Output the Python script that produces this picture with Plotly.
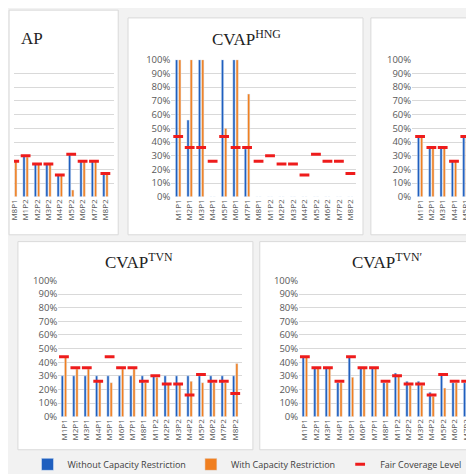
import plotly.graph_objects as go

cats = ["M1P1","M2P1","M3P1","M4P1","M5P1","M6P1","M7P1","M8P1",
        "M1P2","M2P2","M3P2","M4P2","M5P2","M6P2","M7P2","M8P2"]
fair = [44,36,36,26,44,36,36,26,30,24,24,16,31,26,26,17]

cvap_wo = [44,36,36,26,44,36,36,26,30,24,24,16,31,26,26,17]
cvap_w  = [44,36,36,26,44,36,36,26,29,24,24,16,5,26,26,17]
hng_wo = [100,56,100,0,100,100,35,0,0,0,0,0,0,0,0,0]
hng_w  = [100,100,100,0,50,100,75,0,0,0,0,0,0,0,0,0]
tvn_wo = [30,30,30,30,30,30,30,30,30,30,30,30,30,30,30,30]
tvn_w  = [44,35,35,26,25,35,35,25,29,24,24,26,25,25,25,39]
tvnp_wo = [44,36,36,25,44,36,36,25,32,26,26,18,31,25,25,17]
tvnp_w  = [44,36,36,25,29,36,36,25,30,23,23,15,21,25,25,42]
cvr_wo = fair
cvr_w = fair

BLUE, ORANGE, RED = "#1f5fbf", "#f07f20", "#ee1c1c"
H = 474.0
def py(p): return 1 - p / H
def px(p): return p / H

panels = [
    (cvap_wo, cvap_w, (0, 102), (46, 187), [6.98, 15.78], "AP", (18, 24), False),
    (hng_wo, hng_w, (160, 348), (46, 187), [-0.6, 15.5], "CVAP<sup>HNG</sup>", (236, 24), True),
    (cvr_wo, cvr_w, (405, 474), (46, 187), [-0.7, 5.3], "CV", (480, 24), True),
    (tvn_wo, tvn_w, (45, 232), (273, 413), [-0.5, 15.6], "CVAP<sup>TVN</sup>", (127, 253), True),
    (tvnp_wo, tvnp_w, (290, 474), (273, 413), [-0.5, 15.2], "CVAP<sup>TVN′</sup>", (380, 253), True),
]

fig = go.Figure()
layout = {}
def box(x0, x1, y0, y1):
    return dict(type="rect", xref="paper", yref="paper", x0=px(x0), x1=px(x1), y0=py(y1), y1=py(y0),
                line=dict(color="#d9d9d9", width=1), fillcolor="white", layer="below")
shapes = [box(-5, 106, -5, 226), box(116, 355, 3, 226), box(363, 480, 3, 226),
          box(4, 243, 233, 447), box(250, 480, 233, 447)]
annotations = []
for i, (wo, w, xd, yd, xr, title, tp, showy) in enumerate(panels):
    n = i + 1
    xa = "x" if n == 1 else f"x{n}"
    ya = "y" if n == 1 else f"y{n}"
    fig.add_trace(go.Bar(x=cats, y=[v/100 for v in wo], marker_color=BLUE, width=0.2, offset=-0.24,
                         name="Without Capacity Restriction", showlegend=(n == 1), xaxis=xa, yaxis=ya))
    fig.add_trace(go.Bar(x=cats, y=[v/100 for v in w], marker_color=ORANGE, width=0.2, offset=0.04,
                         name="With Capacity Restriction", showlegend=(n == 1), xaxis=xa, yaxis=ya))
    fig.add_trace(go.Scatter(x=cats, y=[v/100 for v in fair], mode="markers",
                             marker=dict(symbol="line-ew", size=7, line=dict(color=RED, width=3)),
                             name="Fair Coverage Level", showlegend=(n == 1), xaxis=xa, yaxis=ya))
    layout["xaxis" if n == 1 else f"xaxis{n}"] = dict(
        domain=[px(xd[0]), px(xd[1])], anchor=ya, range=xr, tickangle=-90,
        tickfont=dict(size=8, color="#595959"), showgrid=False, showline=False, ticks="")
    layout["yaxis" if n == 1 else f"yaxis{n}"] = dict(
        domain=[py(yd[1]), py(yd[0])], anchor=xa, range=[0, 1.0], dtick=0.1, tickformat=".0%",
        showticklabels=showy, tickfont=dict(size=9.5, color="#595959"),
        gridcolor="#d9d9d9", zeroline=False, showline=False)
    annotations.append(dict(text=title, x=px(tp[0]), y=py(tp[1]), xref="paper", yref="paper",
                            showarrow=False, font=dict(family="Liberation Serif", size=17, color="#222"),
                            xanchor="center", yanchor="middle"))

fig.update_layout(**layout)
fig.update_layout(
    width=474, height=474, margin=dict(l=0, r=0, t=0, b=0),
    paper_bgcolor="#f2f2f2", plot_bgcolor="rgba(0,0,0,0)",
    barmode="overlay", shapes=shapes, annotations=annotations,
    font=dict(family="Open Sans"),
    legend=dict(orientation="h", x=0.5, xanchor="center", y=py(462), yanchor="middle",
                font=dict(size=9, color="#404040"), bgcolor="rgba(0,0,0,0)",
                itemwidth=30, tracegroupgap=0, entrywidthmode="pixels"),
)
fig.write_html("out.html")
